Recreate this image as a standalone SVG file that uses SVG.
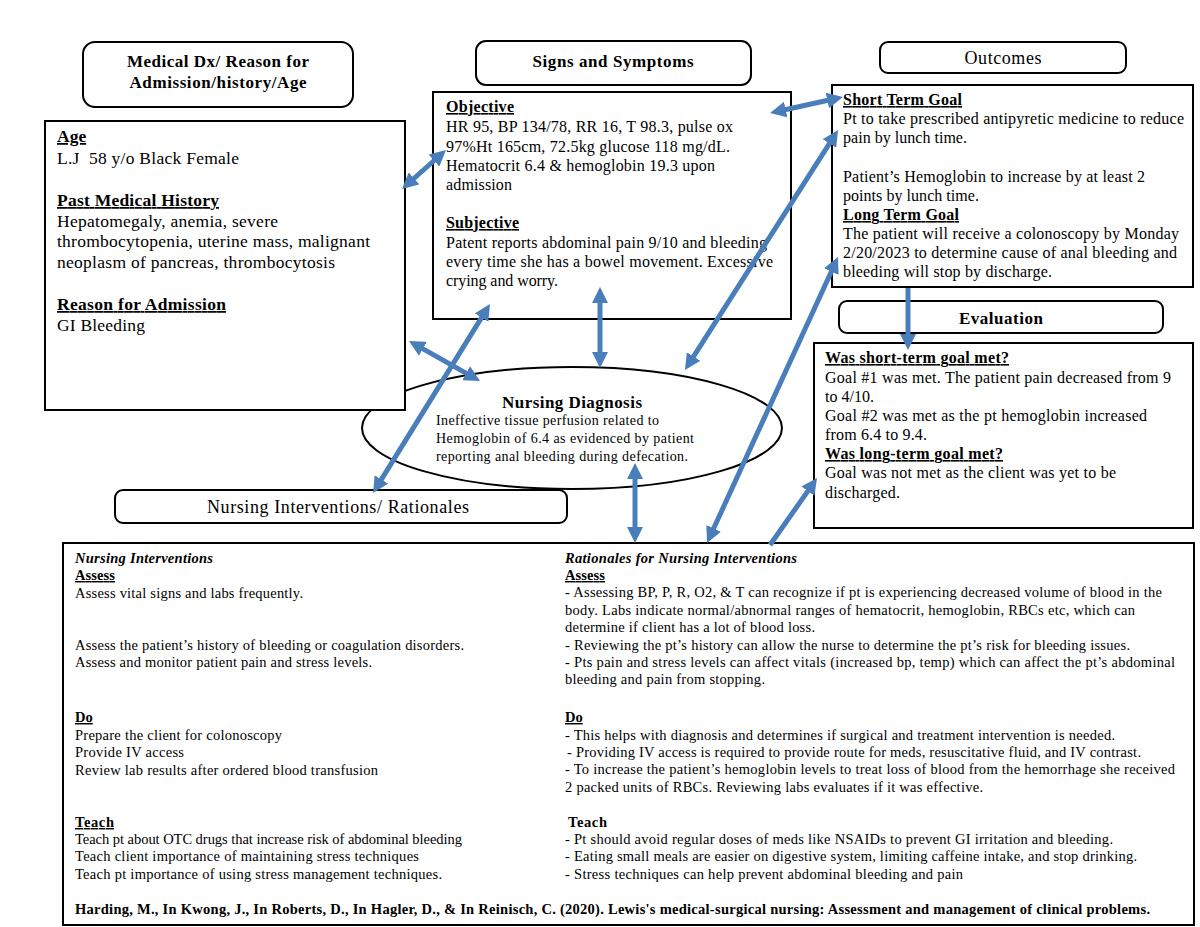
<svg xmlns="http://www.w3.org/2000/svg" width="1200" height="927" viewBox="0 0 1200 927">
<defs>
<style>
.box{fill:#fff;stroke:#000;stroke-width:2}
.hdr{fill:#fff;stroke:#000;stroke-width:2}
.t{font-family:"Liberation Serif","Times New Roman",serif;fill:#000}
.hb{font-size:17px;font-weight:bold;text-anchor:middle}
.hn{font-size:18px;text-anchor:middle}
.l18{font-size:17.5px}
.l16{font-size:16px}
.l14{font-size:14px}
.l15{font-size:14.5px}
.b{font-weight:bold}
.u{text-decoration:underline}
.i{font-style:italic}
.arr{stroke:#4A7EBB;stroke-width:5;fill:none}
</style>
<marker id="ah" markerUnits="userSpaceOnUse" viewBox="0 0 16 16" markerWidth="16" markerHeight="16" refX="10" refY="8" orient="auto-start-reverse">
<path d="M0,0 L16,8 L0,16 z" fill="#4A7EBB"/>
</marker>
</defs>
<rect width="1200" height="927" fill="#fff"/>

<g id="nursing-diagnosis">
<ellipse cx="572" cy="428" rx="210" ry="61" fill="#fff" stroke="#000" stroke-width="2"/>
<text class="t b" x="572" y="408" font-size="17" text-anchor="middle" textLength="140">Nursing Diagnosis</text>
<text class="t l14" x="436" y="425" textLength="223">Ineffective tissue perfusion related to</text>
<text class="t l14" x="436" y="443" textLength="258">Hemoglobin of 6.4 as evidenced by patient</text>
<text class="t l14" x="436" y="461" textLength="252">reporting anal bleeding during defecation.</text>
</g>

<g id="medical-dx-header">
<rect class="hdr" x="83" y="42" width="270" height="65" rx="12"/>
<text class="t hb" x="218" y="67" textLength="182">Medical Dx/ Reason for</text>
<text class="t hb" x="218" y="88" textLength="177">Admission/history/Age</text>
</g>

<g id="medical-dx-box">
<rect class="box" x="45" y="121" width="360" height="289"/>
<text class="t l18 b u" x="57" y="142">Age</text>
<text class="t l18" x="57" y="164" xml:space="preserve" textLength="182">L.J  58 y/o Black Female</text>
<text class="t l18 b u" x="57" y="206" textLength="162">Past Medical History</text>
<text class="t l18" x="57" y="227" textLength="221">Hepatomegaly, anemia, severe</text>
<text class="t l18" x="57" y="247" textLength="313">thrombocytopenia, uterine mass, malignant</text>
<text class="t l18" x="57" y="268" textLength="278">neoplasm of pancreas, thrombocytosis</text>
<text class="t l18 b u" x="57" y="310" textLength="169">Reason for Admission</text>
<text class="t l18" x="57" y="331" textLength="88">GI Bleeding</text>
</g>

<g id="signs-header">
<rect class="hdr" x="476" y="41" width="275" height="44" rx="10"/>
<text class="t hb" x="613" y="67" textLength="161">Signs and Symptoms</text>
</g>

<g id="signs-box">
<rect class="box" x="433" y="92" width="358" height="227"/>
<text class="t l16 b u" x="446" y="112" textLength="68">Objective</text>
<text class="t l16" x="446" y="132" textLength="287">HR 95, BP 134/78, RR 16, T 98.3, pulse ox</text>
<text class="t l16" x="446" y="152" textLength="284">97%Ht 165cm, 72.5kg glucose 118 mg/dL.</text>
<text class="t l16" x="446" y="171" textLength="269">Hematocrit 6.4 &amp; hemoglobin 19.3 upon</text>
<text class="t l16" x="446" y="190" textLength="66">admission</text>
<text class="t l16 b u" x="446" y="228" textLength="73">Subjective</text>
<text class="t l16" x="446" y="248" textLength="321">Patent reports abdominal pain 9/10 and bleeding</text>
<text class="t l16" x="446" y="267" textLength="327">every time she has a bowel movement. Excessive</text>
<text class="t l16" x="446" y="286" textLength="112">crying and worry.</text>
</g>

<g id="outcomes-header">
<rect class="hdr" x="880" y="42" width="246" height="31" rx="8"/>
<text class="t hn" x="1003" y="64" textLength="77">Outcomes</text>
</g>

<g id="outcomes-box">
<rect class="box" x="832" y="85" width="361" height="202"/>
<text class="t l16 b u" x="843" y="105" textLength="119">Short Term Goal</text>
<text class="t l16" x="843" y="124" textLength="341">Pt to take prescribed antipyretic medicine to reduce</text>
<text class="t l16" x="843" y="143" textLength="124">pain by lunch time.</text>
<text class="t l16" x="843" y="182" textLength="302">Patient’s Hemoglobin to increase by at least 2</text>
<text class="t l16" x="843" y="201" textLength="136">points by lunch time.</text>
<text class="t l16 b u" x="843" y="220" textLength="116">Long Term Goal</text>
<text class="t l16" x="843" y="239" textLength="336">The patient will receive a colonoscopy by Monday</text>
<text class="t l16" x="843" y="258" textLength="334">2/20/2023 to determine cause of anal bleeding and</text>
<text class="t l16" x="843" y="277" textLength="209">bleeding will stop by discharge.</text>
</g>

<g id="evaluation-header">
<rect class="hdr" x="839" y="301" width="324" height="32" rx="8"/>
<text class="t hb" x="1001" y="324" textLength="84">Evaluation</text>
</g>

<g id="evaluation-box">
<rect class="box" x="814" y="343" width="379" height="185"/>
<text class="t l16 b u" x="825" y="363" textLength="184">Was short-term goal met?</text>
<text class="t l16" x="825" y="383" textLength="346">Goal #1 was met. The patient pain decreased from 9</text>
<text class="t l16" x="825" y="402" textLength="49">to 4/10.</text>
<text class="t l16" x="825" y="421" textLength="322">Goal #2 was met as the pt hemoglobin increased</text>
<text class="t l16" x="825" y="440" textLength="102">from 6.4 to 9.4.</text>
<text class="t l16 b u" x="825" y="459" textLength="178">Was long-term goal met?</text>
<text class="t l16" x="825" y="478" textLength="291">Goal was not met as the client was yet to be</text>
<text class="t l16" x="825" y="498" textLength="75">discharged.</text>
</g>

<g id="interventions-header">
<rect class="hdr" x="115" y="490" width="452" height="33" rx="8"/>
<text class="t hn" x="338" y="513" textLength="262">Nursing Interventions/ Rationales</text>
</g>

<g id="interventions-box">
<rect class="box" x="63" y="543" width="1131" height="382"/>
<text class="t l15 b i" x="75" y="563" textLength="138">Nursing Interventions</text>
<text class="t l15 b u" x="75" y="580" textLength="40">Assess</text>
<text class="t l15" x="75" y="598" textLength="228">Assess vital signs and labs frequently.</text>
<text class="t l15" x="75" y="650" textLength="389">Assess the patient’s history of bleeding or coagulation disorders.</text>
<text class="t l15" x="75" y="667" textLength="297">Assess and monitor patient pain and stress levels.</text>
<text class="t l15 b u" x="75" y="722">Do</text>
<text class="t l15" x="75" y="740" textLength="207">Prepare the client for colonoscopy</text>
<text class="t l15" x="75" y="757" textLength="109">Provide IV access</text>
<text class="t l15" x="75" y="775" textLength="303">Review lab results after ordered blood transfusion</text>
<text class="t l15 b u" x="75" y="827" textLength="39">Teach</text>
<text class="t l15" x="75" y="844" textLength="387">Teach pt about OTC drugs that increase risk of abdominal bleeding</text>
<text class="t l15" x="75" y="861" textLength="344">Teach client importance of maintaining stress techniques</text>
<text class="t l15" x="75" y="879" textLength="367">Teach pt importance of using stress management techniques.</text>

<text class="t l15 b i" x="565" y="563" textLength="232">Rationales for Nursing Interventions</text>
<text class="t l15 b u" x="565" y="580" textLength="40">Assess</text>
<text class="t l15" x="565" y="597" textLength="597">- Assessing BP, P, R, O2, &amp; T can recognize if pt is experiencing decreased volume of blood in the</text>
<text class="t l15" x="565" y="615" textLength="570">body. Labs indicate normal/abnormal ranges of hematocrit, hemoglobin, RBCs etc, which can</text>
<text class="t l15" x="565" y="632" textLength="250">determine if client has a lot of blood loss.</text>
<text class="t l15" x="565" y="650" textLength="565">- Reviewing the pt’s history can allow the nurse to determine the pt’s risk for bleeding issues.</text>
<text class="t l15" x="565" y="667" textLength="610">- Pts pain and stress levels can affect vitals (increased bp, temp) which can affect the pt’s abdominal</text>
<text class="t l15" x="565" y="684" textLength="200">bleeding and pain from stopping.</text>
<text class="t l15 b u" x="565" y="722">Do</text>
<text class="t l15" x="565" y="740" textLength="550">- This helps with diagnosis and determines if surgical and treatment intervention is needed.</text>
<text class="t l15" x="567" y="757" textLength="574">- Providing IV access is required to provide route for meds, resuscitative fluid, and IV contrast.</text>
<text class="t l15" x="565" y="774" textLength="610">- To increase the patient’s hemoglobin levels to treat loss of blood from the hemorrhage she received</text>
<text class="t l15" x="565" y="792" textLength="418">2 packed units of RBCs. Reviewing labs evaluates if it was effective.</text>
<text class="t l15 b" x="568" y="827" textLength="39">Teach</text>
<text class="t l15" x="565" y="844" textLength="548">- Pt should avoid regular doses of meds like NSAIDs to prevent GI irritation and bleeding.</text>
<text class="t l15" x="565" y="861" textLength="572">- Eating small meals are easier on digestive system, limiting caffeine intake, and stop drinking.</text>
<text class="t l15" x="565" y="879" textLength="398">- Stress techniques can help prevent abdominal bleeding and pain</text>

<text class="t l15 b" x="75" y="914" textLength="1075">Harding, M., In Kwong, J., In Roberts, D., In Hagler, D., &amp; In Reinisch, C. (2020). Lewis's medical-surgical nursing: Assessment and management of clinical problems.</text>
</g>

<g id="connectors">
<line class="arr" x1="406.5" y1="185" x2="441.5" y2="154" marker-start="url(#ah)" marker-end="url(#ah)"/>
<line class="arr" x1="775.9" y1="111.7" x2="837.1" y2="98.3" marker-start="url(#ah)" marker-end="url(#ah)"/>
<line class="arr" x1="834.8" y1="135.1" x2="688.2" y2="364.9" marker-start="url(#ah)" marker-end="url(#ah)"/>
<line class="arr" x1="835.5" y1="262.5" x2="709.5" y2="537.5" marker-start="url(#ah)" marker-end="url(#ah)"/>
<line class="arr" x1="635" y1="469" x2="635" y2="537" marker-start="url(#ah)" marker-end="url(#ah)"/>
<line class="arr" x1="600" y1="293" x2="600" y2="362" marker-start="url(#ah)" marker-end="url(#ah)"/>
<line class="arr" x1="414.2" y1="343.9" x2="474.8" y2="378.1" marker-start="url(#ah)" marker-end="url(#ah)"/>
<line class="arr" x1="486.8" y1="309.1" x2="376.2" y2="487.9" marker-start="url(#ah)" marker-end="url(#ah)"/>
<line class="arr" x1="908" y1="288" x2="908" y2="344" marker-end="url(#ah)"/>
<line class="arr" x1="770" y1="545" x2="813.6" y2="482.9" marker-end="url(#ah)"/>
</g>
</svg>
